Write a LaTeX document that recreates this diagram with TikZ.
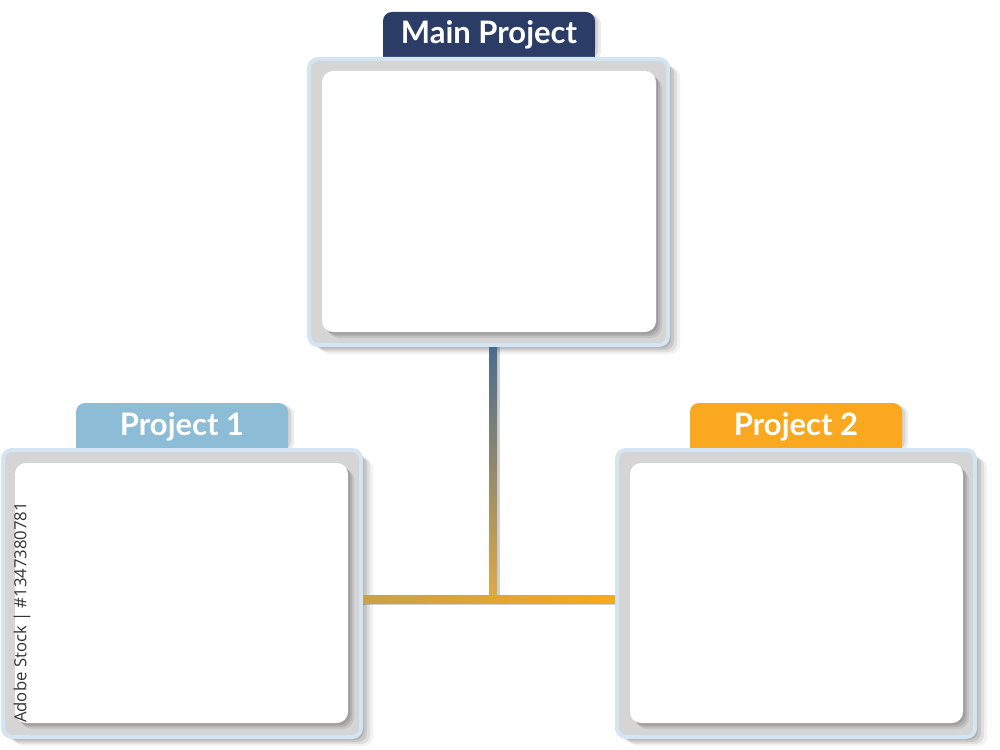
\documentclass[tikz,border=0pt]{standalone}
\usepackage{fontspec}
\newfontfamily\tabfont{Lato}
\newfontfamily\wmfont{Open Sans}
\usetikzlibrary{calc}
\definecolor{navy}{HTML}{2B3D66}
\definecolor{pblue}{HTML}{8DBDD6}
\definecolor{porange}{HTML}{F9A81F}
\definecolor{framegray}{HTML}{D5D5D5}
\definecolor{frameblue}{HTML}{D3E4F2}
\definecolor{connA}{HTML}{4A6B90}
\definecolor{connB}{HTML}{8CBAD9}
\definecolor{connC}{HTML}{E0AA48}
\definecolor{connL}{HTML}{C9A14A}
\definecolor{connR}{HTML}{F9A81A}
\definecolor{wmgray}{HTML}{333333}
\tikzset{
  frame/.style={rectangle, rounded corners=9pt, fill=framegray, draw=frameblue,
    line width=4pt, inner sep=0pt,
    preaction={fill=black, opacity=.10, transform canvas={shift={(3pt,-3pt)}}},
    preaction={fill=black, opacity=.10, transform canvas={shift={(6pt,-5pt)}}},
    preaction={fill=black, opacity=.08, transform canvas={shift={(9pt,-7pt)}}},
    preaction={fill=black, opacity=.05, transform canvas={shift={(12pt,-9pt)}}}},
  innerbox/.style={rectangle, rounded corners=11pt, fill=white, inner sep=0pt,
    preaction={fill=black, opacity=.10, transform canvas={shift={(2pt,-2pt)}}},
    preaction={fill=black, opacity=.10, transform canvas={shift={(4pt,-4pt)}}},
    preaction={fill=black, opacity=.08, transform canvas={shift={(6pt,-6pt)}}}},
  tab/.style={rectangle, rounded corners=9pt, minimum width=212pt, minimum height=45pt,
    inner sep=0pt,
    preaction={fill=black, opacity=.10, transform canvas={shift={(3pt,-2pt)}}},
    preaction={fill=black, opacity=.08, transform canvas={shift={(6pt,-3pt)}}}},
  tabtext/.style={font=\tabfont\bfseries\fontsize{31}{31}\selectfont, text=white, inner sep=0pt},
  connshadow/.style={fill=black, opacity=.18}
}
\begin{document}
\begin{tikzpicture}[x=1pt,y=-1pt]
\useasboundingbox (0,0) rectangle (1000,749);
\fill[white] (0,0) rectangle (1000,749);

% junction of the connectors
\coordinate (j) at (493,599);

% tabs (drawn first, frames overlap their bottoms)
\node[tab, fill=navy] (mt) at (489,34.5) {};
\fill[navy] (mt.west) rectangle (mt.south east);
\node[tab, fill=pblue] (t1) at (182,425.5) {};
\fill[pblue] (t1.west) rectangle (t1.south east);
\node[tab, fill=porange] (t2) at (796,425.5) {};
\fill[porange] (t2.west) rectangle (t2.south east);

% tab labels
\node[tabtext] (mtl) at ($(mt)+(0,0.5)$) {Main Project};
\node[tabtext] (t1l) at ($(t1)+(0,1)$) {Project 1};
\node[tabtext] (t2l) at ($(t2)+(0,1)$) {Project 2};

% frames
\node[frame, minimum width=359pt, minimum height=286pt] (mainF) at (488.5,202) {};
\node[frame, minimum width=358pt, minimum height=287pt] (p1F) at (182,593.5) {};
\node[frame, minimum width=358pt, minimum height=287pt] (p2F) at (796,593.5) {};

% inner white panels
\node[innerbox, minimum width=334pt, minimum height=261pt] (mainI) at (489,201.5) {};
\node[innerbox, minimum width=333pt, minimum height=260pt] (p1I) at (181.5,593) {};
\node[innerbox, minimum width=333pt, minimum height=260pt] (p2I) at (796.5,593) {};

% connectors
\fill[connshadow] ($(mainF.south -| j)+(4,0)$) rectangle ($(j)+(6.5,-4)$);
\fill[connshadow] ($(p1F.east |- j)+(0,4)$) rectangle ($(p2F.west |- j)+(0,6)$);
\shade[top color=connA, middle color=connB, bottom color=connC]
  ($(mainF.south -| j)+(-4,0)$) rectangle ($(j)+(4,0)$);
\shade[left color=connL, right color=connR]
  ($(p1F.east |- j)+(0,-4)$) rectangle ($(p2F.west |- j)+(0,4)$);

% vertical stock id
\node[rotate=90, anchor=west, inner sep=0pt, text=wmgray,
  font=\wmfont\fontsize{16.7}{16.7}\selectfont] (wm) at (22,723) {Adobe Stock | \#1347380781};
\end{tikzpicture}
\end{document}
